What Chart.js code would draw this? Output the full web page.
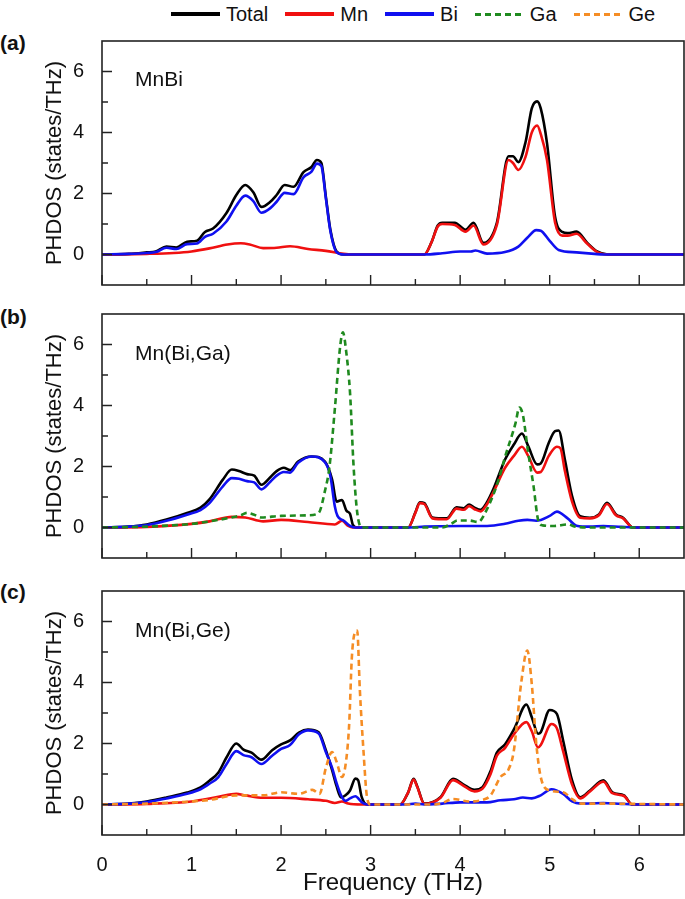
<!DOCTYPE html>
<html>
<head>
<meta charset="utf-8">
<script src="https://cdn.jsdelivr.net/npm/chart.js@4.4.1/dist/chart.umd.min.js"></script>
<style>
  body { margin: 0; background: #fff; font-family: "Liberation Sans", Arial, sans-serif; }
  #wrap { position: relative; width: 685px; height: 899px; overflow: hidden; background: #fff; }
  canvas { position: absolute; left: 0; }
  .tag { position: absolute; left: 0; font-weight: bold; font-size: 21px; color: #111; line-height: 1; }
  .name { position: absolute; left: 135px; font-size: 21px; color: #111; line-height: 1; }
  #legend { position: absolute; top: 4px; left: 171px; height: 20px; display: flex; align-items: center; font-size: 20px; color: #111; }
  .item { display: flex; align-items: center; margin-right: 17px; }
  .swatch { width: 49px; height: 4px; margin-right: 6px; }
</style>
</head>
<body>
<div id="wrap">
  <div id="legend"></div>
  <div class="tag" style="top:32px">(a)</div>
  <div class="tag" style="top:306px">(b)</div>
  <div class="tag" style="top:581px">(c)</div>
  <canvas id="chartA" width="685" height="246" style="top:40px"></canvas>
  <canvas id="chartB" width="685" height="246" style="top:313px"></canvas>
  <canvas id="chartC" width="685" height="309" style="top:590px"></canvas>
  <div class="name" style="top:68px">MnBi</div>
  <div class="name" style="top:342px">Mn(Bi,Ga)</div>
  <div class="name" style="top:619px">Mn(Bi,Ge)</div>
</div>
<script>
// x ticks (THz) and y ticks (states/THz)
const xTicks = [0, 1, 2, 3, 4, 5, 6];
const xMinor = [0.5, 1.5, 2.5, 3.5, 4.5, 5.5];
const yTicks = [0, 2, 4, 6];
const yMinor = [1, 3, 5];

// panel (a) MnBi: [frequency, PHDOS]
const aTotal = [[0,0],[0.3,0.02],[0.5,0.07],[0.6,0.1],[0.72,0.26],[0.83,0.23],[0.95,0.42],[1.06,0.45],[1.15,0.74],[1.24,0.85],[1.39,1.36],[1.5,1.95],[1.6,2.28],[1.69,2.04],[1.78,1.56],[1.88,1.73],[1.95,1.95],[2.04,2.28],[2.14,2.22],[2.25,2.7],[2.34,2.87],[2.4,3.1],[2.45,3.0],[2.5,1.9],[2.55,0.82],[2.62,0.1],[2.7,0],[3.6,0],[3.68,0.4],[3.75,0.95],[3.8,1.04],[3.94,1.04],[4.06,0.81],[4.15,1.04],[4.26,0.38],[4.41,1.04],[4.54,3.22],[4.59,3.22],[4.65,3.03],[4.73,3.68],[4.8,4.79],[4.86,5.02],[4.9,4.79],[4.97,3.65],[5.06,1.24],[5.14,0.74],[5.2,0.7],[5.3,0.75],[5.42,0.38],[5.53,0.1],[5.65,0],[6.5,0]];
const aMn = [[0,0],[0.5,0.02],[0.8,0.05],[1.0,0.1],[1.2,0.2],[1.4,0.33],[1.55,0.37],[1.65,0.33],[1.8,0.21],[1.95,0.22],[2.1,0.27],[2.3,0.18],[2.5,0.12],[2.7,0.02],[2.8,0],[3.6,0],[3.68,0.4],[3.75,0.92],[3.8,1.0],[3.94,0.97],[4.06,0.75],[4.15,0.95],[4.26,0.33],[4.41,0.97],[4.54,3.1],[4.59,3.0],[4.65,2.77],[4.73,3.2],[4.8,4.0],[4.86,4.23],[4.9,3.95],[4.97,3.1],[5.06,1.05],[5.14,0.62],[5.2,0.62],[5.3,0.68],[5.42,0.35],[5.53,0.08],[5.65,0],[6.5,0]];
const aBi = [[0,0],[0.3,0.02],[0.5,0.05],[0.6,0.08],[0.72,0.22],[0.83,0.18],[0.95,0.34],[1.06,0.36],[1.15,0.58],[1.24,0.68],[1.39,1.08],[1.5,1.6],[1.6,1.93],[1.69,1.75],[1.78,1.37],[1.88,1.52],[1.95,1.73],[2.04,2.02],[2.14,1.98],[2.25,2.53],[2.34,2.72],[2.4,2.98],[2.45,2.9],[2.5,1.85],[2.55,0.78],[2.62,0.08],[2.7,0],[3.6,0],[3.8,0.04],[4.0,0.1],[4.12,0.1],[4.17,0.13],[4.3,0.03],[4.5,0.08],[4.65,0.26],[4.75,0.55],[4.85,0.8],[4.9,0.78],[5.0,0.45],[5.1,0.15],[5.3,0.07],[5.5,0.02],[5.6,0],[6.5,0]];

// panel (b) Mn(Bi,Ga)
const bTotal = [[0,0],[0.3,0.03],[0.5,0.1],[0.72,0.26],[0.95,0.48],[1.1,0.65],[1.2,0.92],[1.35,1.57],[1.45,1.9],[1.53,1.85],[1.62,1.75],[1.7,1.7],[1.78,1.4],[1.88,1.65],[1.95,1.85],[2.03,1.96],[2.1,1.88],[2.19,2.16],[2.34,2.33],[2.49,2.16],[2.57,1.57],[2.62,0.85],[2.68,0.9],[2.73,0.55],[2.77,0.45],[2.8,0.1],[2.85,0],[3.42,0],[3.5,0.5],[3.55,0.83],[3.6,0.8],[3.69,0.33],[3.85,0.3],[3.96,0.66],[4.04,0.63],[4.1,0.75],[4.16,0.65],[4.23,0.58],[4.29,0.78],[4.37,1.25],[4.5,2.22],[4.6,2.72],[4.69,3.08],[4.76,2.67],[4.86,2.07],[4.9,2.1],[4.99,2.78],[5.06,3.16],[5.1,3.18],[5.17,2.22],[5.25,1.03],[5.34,0.37],[5.45,0.32],[5.55,0.43],[5.64,0.81],[5.74,0.43],[5.82,0.32],[5.93,0],[6.5,0]];
const bMn = [[0,0],[0.5,0.02],[1.0,0.12],[1.2,0.2],[1.45,0.35],[1.6,0.33],[1.8,0.2],[2.0,0.25],[2.3,0.18],[2.6,0.1],[2.68,0.22],[2.75,0.05],[2.8,0],[3.42,0],[3.5,0.48],[3.55,0.8],[3.6,0.77],[3.69,0.3],[3.85,0.27],[3.96,0.62],[4.04,0.58],[4.1,0.7],[4.16,0.6],[4.23,0.53],[4.29,0.72],[4.37,1.15],[4.5,1.95],[4.6,2.35],[4.69,2.65],[4.76,2.35],[4.86,1.8],[4.9,1.82],[4.99,2.35],[5.08,2.65],[5.12,2.6],[5.17,1.85],[5.25,0.85],[5.34,0.32],[5.45,0.3],[5.55,0.4],[5.64,0.77],[5.74,0.4],[5.82,0.3],[5.93,0],[6.5,0]];
const bBi = [[0,0],[0.3,0.03],[0.5,0.08],[0.72,0.22],[0.95,0.42],[1.1,0.57],[1.2,0.8],[1.35,1.35],[1.45,1.62],[1.53,1.6],[1.62,1.52],[1.7,1.48],[1.78,1.25],[1.88,1.5],[1.95,1.7],[2.03,1.82],[2.1,1.8],[2.19,2.12],[2.34,2.33],[2.49,2.14],[2.55,1.7],[2.6,0.7],[2.63,0.38],[2.7,0.22],[2.77,0.05],[2.82,0],[3.45,0],[3.6,0.03],[4.0,0.05],[4.3,0.05],[4.5,0.12],[4.65,0.22],[4.75,0.25],[4.85,0.22],[5.0,0.38],[5.08,0.52],[5.2,0.3],[5.3,0.06],[5.45,0.03],[5.6,0.05],[5.8,0.02],[6.0,0],[6.5,0]];
const bGa = [[0,0],[0.5,0.03],[1.0,0.12],[1.2,0.2],[1.45,0.33],[1.55,0.4],[1.62,0.48],[1.7,0.42],[1.78,0.33],[2.0,0.38],[2.3,0.4],[2.42,0.48],[2.49,1.2],[2.54,1.98],[2.6,3.87],[2.66,5.94],[2.69,6.4],[2.73,5.7],[2.77,4.42],[2.81,2.0],[2.85,0.5],[2.9,0],[3.8,0],[3.9,0.12],[3.97,0.23],[4.1,0.23],[4.2,0.18],[4.3,0.6],[4.43,1.57],[4.5,2.3],[4.62,3.44],[4.66,3.93],[4.7,3.7],[4.76,2.45],[4.82,1.35],[4.87,0.26],[4.92,0.07],[5.05,0.05],[5.2,0.1],[5.3,0.02],[5.5,0],[6.5,0]];

// panel (c) Mn(Bi,Ge)
const cTotal = [[0,0],[0.3,0.03],[0.5,0.1],[0.72,0.23],[0.95,0.39],[1.1,0.56],[1.2,0.78],[1.3,1.05],[1.39,1.54],[1.5,2.0],[1.58,1.8],[1.67,1.7],[1.78,1.47],[1.9,1.78],[2.0,1.97],[2.1,2.1],[2.2,2.36],[2.3,2.46],[2.42,2.37],[2.5,1.78],[2.57,1.13],[2.62,0.6],[2.67,0.23],[2.72,0.3],[2.77,0.46],[2.83,0.85],[2.86,0.8],[2.9,0.25],[2.96,0],[3.33,0],[3.42,0.4],[3.48,0.84],[3.52,0.6],[3.6,0.03],[3.78,0.24],[3.92,0.84],[4.03,0.67],[4.16,0.48],[4.25,0.57],[4.34,1.1],[4.41,1.7],[4.5,1.97],[4.61,2.52],[4.74,3.28],[4.8,2.86],[4.87,2.32],[4.9,2.37],[5.0,3.1],[5.08,2.97],[5.15,2.1],[5.25,0.79],[5.34,0.24],[5.45,0.46],[5.6,0.79],[5.7,0.4],[5.83,0.3],[5.92,0],[6.5,0]];
const cMn = [[0,0],[0.5,0.02],[1.0,0.1],[1.3,0.25],[1.5,0.35],[1.6,0.3],[1.8,0.22],[2.0,0.22],[2.3,0.17],[2.5,0.12],[2.6,0.05],[2.68,0.1],[2.75,0.03],[2.9,0],[3.33,0],[3.42,0.4],[3.48,0.82],[3.52,0.58],[3.6,0.02],[3.78,0.22],[3.92,0.8],[4.03,0.63],[4.16,0.43],[4.25,0.52],[4.34,1.0],[4.41,1.6],[4.5,1.85],[4.6,2.3],[4.74,2.7],[4.8,2.4],[4.87,1.87],[4.9,1.95],[5.02,2.64],[5.08,2.5],[5.15,1.75],[5.25,0.65],[5.34,0.2],[5.45,0.43],[5.6,0.75],[5.7,0.37],[5.83,0.28],[5.92,0],[6.5,0]];
const cBi = [[0,0],[0.3,0.03],[0.5,0.08],[0.72,0.2],[0.95,0.35],[1.1,0.5],[1.2,0.68],[1.3,0.9],[1.39,1.32],[1.5,1.75],[1.58,1.62],[1.67,1.55],[1.78,1.33],[1.9,1.6],[2.0,1.82],[2.1,1.95],[2.2,2.3],[2.3,2.43],[2.42,2.33],[2.5,1.72],[2.57,1.2],[2.62,0.7],[2.67,0.3],[2.72,0.12],[2.77,0.2],[2.83,0.27],[2.9,0.08],[2.96,0],[3.4,0],[3.5,0.03],[3.6,0],[3.8,0.03],[4.0,0.07],[4.3,0.07],[4.45,0.14],[4.6,0.17],[4.7,0.23],[4.8,0.2],[4.9,0.3],[5.02,0.5],[5.15,0.35],[5.25,0.1],[5.35,0.03],[5.6,0.05],[5.8,0.02],[6.0,0],[6.5,0]];
const cGe = [[0,0],[0.5,0.03],[1.0,0.1],[1.2,0.15],[1.5,0.3],[1.8,0.3],[2.0,0.4],[2.2,0.35],[2.35,0.48],[2.43,0.35],[2.5,1.2],[2.57,1.72],[2.62,1.4],[2.68,0.9],[2.72,1.3],[2.76,2.6],[2.79,4.8],[2.82,5.6],[2.85,5.7],[2.88,3.74],[2.92,1.77],[2.96,0.23],[3.0,0],[3.7,0],[3.8,0.05],[3.92,0.18],[4.1,0.1],[4.25,0.15],[4.34,0.3],[4.45,0.9],[4.54,1.15],[4.6,1.77],[4.68,3.95],[4.75,5.05],[4.8,3.95],[4.85,2.0],[4.9,0.9],[5.0,0.46],[5.15,0.4],[5.25,0.18],[5.35,0.03],[5.5,0.03],[6.5,0]];

const FONT = "'Liberation Sans', Arial, sans-serif";
const styles = {
  Total: { color: "#000000", order: 3 },
  Mn: { color: "#f01010", order: 2 },
  Bi: { color: "#1010f0", order: 1 },
  Ga: { color: "#1f8a1f", order: 0, dash: [6, 4] },
  Ge: { color: "#f58d25", order: 0, dash: [6, 4] }
};

// legend
const legendEl = document.getElementById("legend");
legendEl.innerHTML = Object.keys(styles).map(name => {
  const s = styles[name];
  const bg = s.dash
    ? `repeating-linear-gradient(to right, ${s.color} 0 6px, transparent 6px 10px)`
    : s.color;
  const h = s.dash ? 3 : 4;
  return `<div class="item"><div class="swatch" style="background:${bg};height:${h}px"></div>${name}</div>`;
}).join("");

const framePlugin = {
  id: "frame",
  afterDraw(chart) {
    const { ctx, chartArea: a, scales } = chart;
    ctx.save();
    ctx.strokeStyle = "#222";
    ctx.lineWidth = 1.6;
    ctx.strokeRect(a.left, a.top, a.right - a.left, a.bottom - a.top);
    ctx.lineWidth = 1.4;
    ctx.beginPath();
    xTicks.concat(xMinor).forEach(v => {
      const x = scales.x.getPixelForValue(v);
      const len = xTicks.includes(v) ? 10 : 6;
      ctx.moveTo(x, a.bottom);
      ctx.lineTo(x, a.bottom - len);
    });
    yTicks.concat(yMinor).forEach(v => {
      const y = scales.y.getPixelForValue(v);
      const len = yTicks.includes(v) ? 10 : 6;
      ctx.moveTo(a.left, y);
      ctx.lineTo(a.left + len, y);
    });
    ctx.stroke();
    ctx.restore();
  }
};

function makePanel(id, series, showX) {
  return new Chart(document.getElementById(id), {
    type: "line",
    data: {
      datasets: series.map(([name, pts]) => ({
        label: name,
        data: pts.map(p => ({ x: p[0], y: p[1] })),
        borderColor: styles[name].color,
        borderDash: styles[name].dash || [],
        borderWidth: 2.6,
        pointRadius: 0,
        cubicInterpolationMode: "monotone",
        fill: false,
        order: styles[name].order
      }))
    },
    options: {
      responsive: false,
      animation: false,
      events: [],
      layout: { padding: { top: 1, right: 1, bottom: showX ? 0 : 1, left: 0 } },
      plugins: { legend: { display: false }, tooltip: { enabled: false } },
      scales: {
        x: {
          type: "linear",
          min: 0,
          max: 6.5,
          display: showX,
          grid: { display: false },
          border: { display: false },
          afterBuildTicks: s => { s.ticks = xTicks.map(v => ({ value: v })); },
          afterFit: s => {
            if (showX) s.height = 64;
            s.paddingLeft = 0;
            s.paddingRight = 0;
          },
          ticks: { color: "#111", font: { family: FONT, size: 20 }, padding: 10, maxRotation: 0 },
          title: { display: true, text: "Frequency (THz)", color: "#111", font: { family: FONT, size: 24 }, padding: { top: 0, bottom: 1 } }
        },
        y: {
          min: -1,
          max: 7,
          grid: { display: false },
          border: { display: false },
          afterBuildTicks: s => { s.ticks = yTicks.map(v => ({ value: v })); },
          afterFit: s => {
            s.width = 102;
            s.paddingTop = 0;
            s.paddingBottom = 0;
          },
          ticks: { color: "#111", font: { family: FONT, size: 20 }, padding: 10 },
          title: { display: true, text: "PHDOS (states/THz)", color: "#111", font: { family: FONT, size: 22 }, padding: { top: 42, bottom: 0 } }
        }
      }
    },
    plugins: [framePlugin]
  });
}

makePanel("chartA", [["Total", aTotal], ["Mn", aMn], ["Bi", aBi]], false);
makePanel("chartB", [["Total", bTotal], ["Mn", bMn], ["Bi", bBi], ["Ga", bGa]], false);
makePanel("chartC", [["Total", cTotal], ["Mn", cMn], ["Bi", cBi], ["Ge", cGe]], true);
</script>
</body>
</html>
